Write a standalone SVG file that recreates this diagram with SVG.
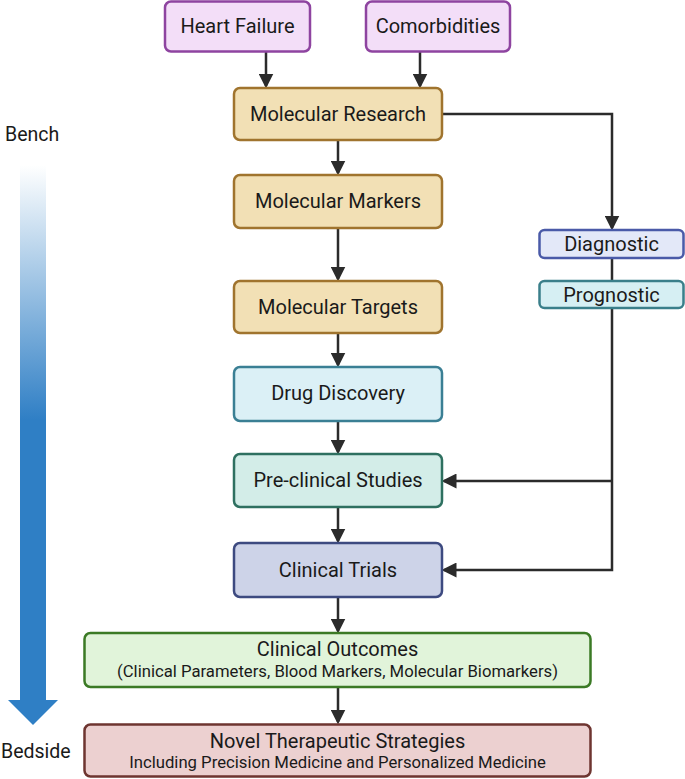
<svg xmlns="http://www.w3.org/2000/svg" width="685" height="779" viewBox="0 0 685 779">
<style>
.n{stroke-width:2.5}
.t{font-family:Roboto,"Liberation Sans",sans-serif;font-size:20px;fill:#1a1a1a;text-anchor:middle}
.s{font-family:Roboto,"Liberation Sans",sans-serif;font-size:16.7px;fill:#1a1a1a;text-anchor:middle}
.c{fill:none;stroke:#2b2b2b;stroke-width:2.5}
</style>
<defs>
<marker id="ah" markerWidth="6" markerHeight="6" refX="5" refY="3" orient="auto" markerUnits="strokeWidth">
<path d="M0,0 L6,3 L0,6 Z" fill="#2b2b2b"/>
</marker>
<linearGradient id="bg" x1="0" y1="165" x2="0" y2="420" gradientUnits="userSpaceOnUse">
<stop offset="0" stop-color="#ffffff"/>
<stop offset="1" stop-color="#2f7fc5"/>
</linearGradient>
</defs>
<g id="bench-bedside">
<text x="5" y="141" font-family="Roboto,'Liberation Sans',sans-serif" font-size="19.5" fill="#1a1a1a">Bench</text>
<path d="M20,165 H46 V700 H58 L33,725 L8,700 H20 Z" fill="url(#bg)"/>
<text x="1" y="758" font-family="Roboto,'Liberation Sans',sans-serif" font-size="19.5" fill="#1a1a1a">Bedside</text>
</g>
<g id="connectors">
<path class="c" d="M266,52 V86" marker-end="url(#ah)"/>
<path class="c" d="M420,52 V86" marker-end="url(#ah)"/>
<path class="c" d="M338,140 V173" marker-end="url(#ah)"/>
<path class="c" d="M338,228 V279" marker-end="url(#ah)"/>
<path class="c" d="M338,333 V365" marker-end="url(#ah)"/>
<path class="c" d="M338,421 V452" marker-end="url(#ah)"/>
<path class="c" d="M338,507 V541" marker-end="url(#ah)"/>
<path class="c" d="M338,597 V631" marker-end="url(#ah)"/>
<path class="c" d="M338,687 V722" marker-end="url(#ah)"/>
<path class="c" d="M442,114 H612 V228" marker-end="url(#ah)"/>
<path class="c" d="M612,258 V281"/>
<path class="c" d="M612,308 V570 H444" marker-end="url(#ah)"/>
<path class="c" d="M612,481 H444" marker-end="url(#ah)"/>
</g>
<g id="heart-failure">
<rect class="n" x="165" y="1.5" width="145" height="50" rx="6" fill="#f3def8" stroke="#8e44a0"/>
<text class="t" x="237.5" y="33">Heart Failure</text>
</g>
<g id="comorbidities">
<rect class="n" x="366" y="1.5" width="144" height="50" rx="6" fill="#f3def8" stroke="#8e44a0"/>
<text class="t" x="438" y="33">Comorbidities</text>
</g>
<g id="molecular-research">
<rect class="n" x="234" y="88" width="208" height="52" rx="6" fill="#f2e0b5" stroke="#a0742e"/>
<text class="t" x="338" y="120.5">Molecular Research</text>
</g>
<g id="molecular-markers">
<rect class="n" x="234" y="175" width="208" height="53" rx="6" fill="#f2e0b5" stroke="#a0742e"/>
<text class="t" x="338" y="208">Molecular Markers</text>
</g>
<g id="molecular-targets">
<rect class="n" x="234" y="281" width="208" height="52" rx="6" fill="#f2e0b5" stroke="#a0742e"/>
<text class="t" x="338" y="314">Molecular Targets</text>
</g>
<g id="drug-discovery">
<rect class="n" x="234" y="367" width="208" height="54" rx="6" fill="#dbf0f6" stroke="#3a7f94"/>
<text class="t" x="338" y="400">Drug Discovery</text>
</g>
<g id="pre-clinical">
<rect class="n" x="234" y="454" width="208" height="53" rx="6" fill="#d3ede8" stroke="#2e7060"/>
<text class="t" x="338" y="487">Pre-clinical Studies</text>
</g>
<g id="clinical-trials">
<rect class="n" x="234" y="543" width="208" height="54" rx="6" fill="#cdd3e8" stroke="#3d4a80"/>
<text class="t" x="338" y="576.5">Clinical Trials</text>
</g>
<g id="diagnostic">
<rect class="n" x="539.5" y="230" width="144" height="28" rx="5" fill="#e3e8f8" stroke="#4a5aa8"/>
<text class="t" x="611.5" y="251">Diagnostic</text>
</g>
<g id="prognostic">
<rect class="n" x="539.5" y="281" width="144" height="27" rx="5" fill="#d6eff3" stroke="#3a7f8a"/>
<text class="t" x="611.5" y="301.5">Prognostic</text>
</g>
<g id="clinical-outcomes">
<rect class="n" x="84.5" y="633" width="506" height="54" rx="6" fill="#e1f4da" stroke="#3b7a25"/>
<text class="t" x="337.5" y="656">Clinical Outcomes</text>
<text class="s" x="337.5" y="677">(Clinical Parameters, Blood Markers, Molecular Biomarkers)</text>
</g>
<g id="novel-strategies">
<rect class="n" x="84.5" y="724.5" width="506" height="52" rx="6" fill="#ecd0d0" stroke="#6e3530"/>
<text class="t" x="337.5" y="748">Novel Therapeutic Strategies</text>
<text class="s" x="337.5" y="768">Including Precision Medicine and Personalized Medicine</text>
</g>
</svg>
